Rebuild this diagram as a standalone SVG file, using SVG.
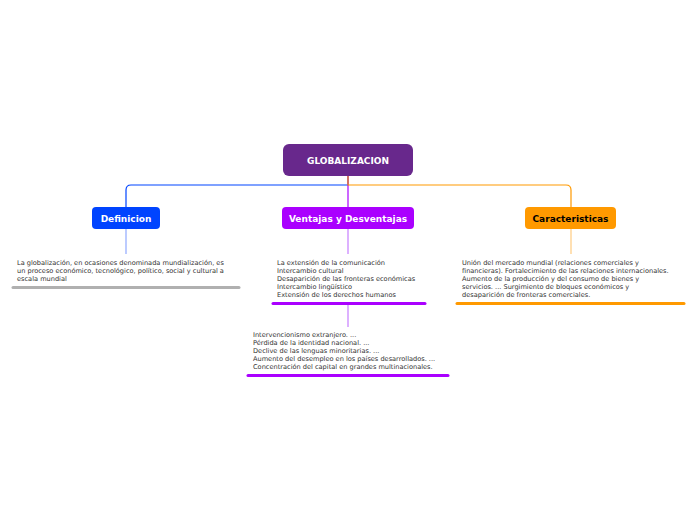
<svg xmlns="http://www.w3.org/2000/svg" width="696" height="520" viewBox="0 0 696 520">
<style>
text{font-family:"DejaVu Sans",Verdana,sans-serif}
.n{font-size:9px;font-weight:bold;text-anchor:middle}
.t{font-size:6.6px;fill:#333}
.c{fill:none;stroke-width:1.2}
</style>
<rect width="696" height="520" fill="#fff"/>
<g id="connectors">
<path class="c" stroke="#0044ff" d="M348 176V185H131Q126 185 126 190V208"/>
<path class="c" stroke="#aa00ff" d="M348 176V208"/>
<path class="c" stroke="#ff9900" d="M348 176V185H566Q571 185 571 190V208"/>
<path class="c" stroke="#8fa8ff" d="M126 229V254"/>
<path class="c" stroke="#c77dff" d="M348 229V254"/>
<path class="c" stroke="#c77dff" d="M348 305V327"/>
<path class="c" stroke="#ffcc80" d="M571 229V254"/>
</g>
<g id="root"><rect x="283" y="144" width="130" height="32" rx="6" fill="#68288c"/><text class="n" x="348" y="164" fill="#fff" font-size="11">GLOBALIZACION</text></g>
<g id="definicion"><rect x="92" y="207" width="68" height="22" rx="4" fill="#0044ff"/><text class="n" x="126" y="221.5" fill="#fff">Definicion</text></g>
<g id="ventajas"><rect x="282" y="207" width="132" height="22" rx="4" fill="#aa00ff"/><text class="n" x="348" y="221.5" fill="#fff">Ventajas y Desventajas</text></g>
<g id="caracteristicas"><rect x="525" y="207" width="91" height="22" rx="4" fill="#ff9900"/><text class="n" x="570.5" y="221.5" fill="#000">Caracteristicas</text></g>
<g id="def-text"><text class="t" x="17" y="264.5"><tspan x="17">La globalización, en ocasiones denominada mundialización, es</tspan><tspan x="17" dy="8">un proceso económico, tecnológico, político, social y cultural a</tspan><tspan x="17" dy="8">escala mundial</tspan></text><line x1="13" y1="287.5" x2="239" y2="287.5" stroke="#b0b0b0" stroke-width="3" stroke-linecap="round"/></g>
<g id="ventajas-text"><text class="t" x="277" y="264.5"><tspan x="277">La extensión de la comunicación</tspan><tspan x="277" dy="8">Intercambio cultural</tspan><tspan x="277" dy="8">Desaparición de las fronteras económicas</tspan><tspan x="277" dy="8">Intercambio lingüístico</tspan><tspan x="277" dy="8">Extensión de los derechos humanos</tspan></text><line x1="273" y1="303.5" x2="425" y2="303.5" stroke="#aa00ff" stroke-width="3" stroke-linecap="round"/></g>
<g id="desventajas-text"><text class="t" x="253" y="336.5"><tspan x="253">Intervencionismo extranjero. ...</tspan><tspan x="253" dy="8">Pérdida de la identidad nacional. ...</tspan><tspan x="253" dy="8">Declive de las lenguas minoritarias. ...</tspan><tspan x="253" dy="8">Aumento del desempleo en los países desarrollados. ...</tspan><tspan x="253" dy="8">Concentración del capital en grandes multinacionales.</tspan></text><line x1="248" y1="375.5" x2="448" y2="375.5" stroke="#aa00ff" stroke-width="3" stroke-linecap="round"/></g>
<g id="car-text"><text class="t" x="462" y="264.5"><tspan x="462">Unión del mercado mundial (relaciones comerciales y</tspan><tspan x="462" dy="8">financieras). Fortalecimiento de las relaciones internacionales.</tspan><tspan x="462" dy="8">Aumento de la producción y del consumo de bienes y</tspan><tspan x="462" dy="8">servicios. ... Surgimiento de bloques económicos y</tspan><tspan x="462" dy="8">desaparición de fronteras comerciales.</tspan></text><line x1="457" y1="303.5" x2="684" y2="303.5" stroke="#ff9900" stroke-width="3" stroke-linecap="round"/></g>
</svg>
